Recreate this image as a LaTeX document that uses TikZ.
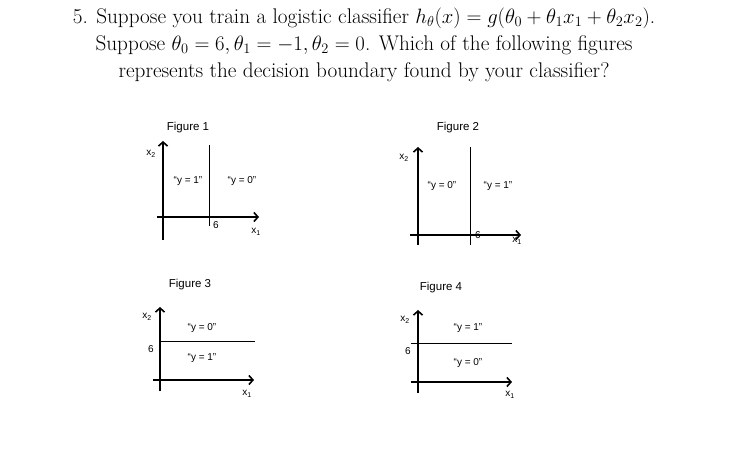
\documentclass[tikz,border=0pt]{standalone}
\usepackage{amsmath}
\usepackage{fontspec}
\usetikzlibrary{arrows.meta}
\newfontfamily\arial{Liberation Sans}
\begin{document}
\begin{tikzpicture}[x=1pt,y=-1pt,
  lab/.style={font=\arial\fontsize{10}{11}\selectfont,inner sep=0pt},
  ttl/.style={font=\arial\fontsize{11.5}{13}\selectfont,inner sep=0pt},
  ax/.style={line width=1.6pt,-{Straight Barb[length=4pt,width=9pt]}},
  bd/.style={line width=0.8pt}]
\useasboundingbox (0,0) rectangle (741,455);
\node[font=\fontsize{21.2}{27}\selectfont,align=center,inner sep=0pt] (q) at (364,45)
{5. Suppose you train a logistic classifier $h_\theta(x)=g(\theta_0+\theta_1x_1+\theta_2x_2)$.\\
Suppose $\theta_0=6,\theta_1=-1,\theta_2=0$. Which of the following figures\\
represents the decision boundary found by your classifier?};
% Figure 1
\node[ttl] (t1) at (188,128) {Figure 1};
\coordinate (a1o) at (163,240); \coordinate (a1t) at (163,141);
\coordinate (b1o) at (157,217); \coordinate (b1t) at (259,217);
\draw[ax] (a1o) -- (a1t); \draw[ax] (b1o) -- (b1t);
\coordinate (l1a) at (209,145); \coordinate (l1b) at (209,226);
\draw[bd] (l1a) -- (l1b);
\node[lab] (p1) at (188,181) {“y = 1”};
\node[lab] (n1) at (242,181) {“y = 0”};
\node[lab] (x21) at (151,154) {x\textsubscript{2}};
\node[lab] (s1) at (216,225) {6};
\node[lab] (x11) at (256,232) {x\textsubscript{1}};
% Figure 2
\node[ttl] (t2) at (458,128) {Figure 2};
\coordinate (a2o) at (418,245); \coordinate (a2t) at (418,147);
\coordinate (b2o) at (410,235); \coordinate (b2t) at (521,235);
\draw[ax] (a2o) -- (a2t); \draw[ax] (b2o) -- (b2t);
\coordinate (l2a) at (470,147); \coordinate (l2b) at (470,245);
\draw[bd] (l2a) -- (l2b);
\node[lab] (n2) at (442,186) {“y = 0”};
\node[lab] (p2) at (498,186) {“y = 1”};
\node[lab] (x22) at (404,158) {x\textsubscript{2}};
\node[lab] (s2) at (478,235) {6};
\node[lab] (x12) at (517,241) {x\textsubscript{1}};
% Figure 3
\node[ttl] (t3) at (190,285) {Figure 3};
\coordinate (a3o) at (160,391); \coordinate (a3t) at (160,307);
\coordinate (b3o) at (153,380); \coordinate (b3t) at (254,380);
\draw[ax] (a3o) -- (a3t); \draw[ax] (b3o) -- (b3t);
\coordinate (l3a) at (160,341); \coordinate (l3b) at (255,341);
\draw[bd] (l3a) -- (l3b);
\node[lab] (n3) at (202,328) {“y = 0”};
\node[lab] (p3) at (202,358) {“y = 1”};
\node[lab] (x23) at (147,317) {x\textsubscript{2}};
\node[lab] (s3) at (151,349) {6};
\node[lab] (x13) at (247,394) {x\textsubscript{1}};
% Figure 4
\node[ttl] (t4) at (441,288) {Figure 4};
\coordinate (a4o) at (418,393); \coordinate (a4t) at (418,310);
\coordinate (b4o) at (411,382); \coordinate (b4t) at (512,382);
\draw[ax] (a4o) -- (a4t); \draw[ax] (b4o) -- (b4t);
\coordinate (l4a) at (411,343); \coordinate (l4b) at (512,343);
\draw[bd] (l4a) -- (l4b);
\node[lab] (p4) at (468,328) {“y = 1”};
\node[lab] (n4) at (468,363) {“y = 0”};
\node[lab] (x24) at (405,320) {x\textsubscript{2}};
\node[lab] (s4) at (408,351) {6};
\node[lab] (x14) at (510,395) {x\textsubscript{1}};
\end{tikzpicture}
\end{document}
